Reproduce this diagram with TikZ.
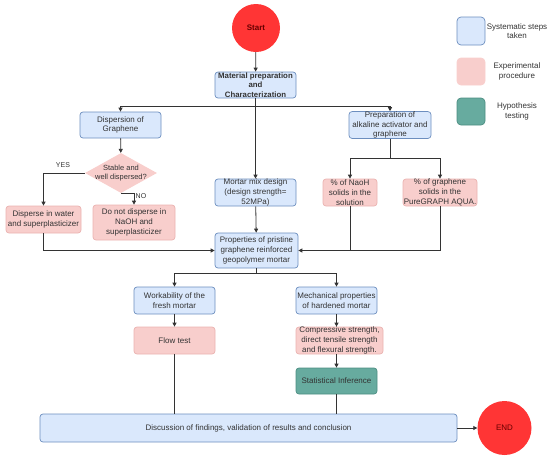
\documentclass[tikz,border=0pt]{standalone}
\usepackage{fontspec}
\setmainfont{Liberation Sans}
\usetikzlibrary{arrows.meta,shapes.geometric,calc}
\definecolor{bfill}{HTML}{DAE8FC}
\definecolor{bdraw}{HTML}{6C8EBF}
\definecolor{pfill}{HTML}{F8CECC}
\definecolor{pdraw}{HTML}{EAB2B0}
\definecolor{gfill}{HTML}{67AB9F}
\definecolor{gdraw}{HTML}{4D8E82}
\definecolor{rfill}{HTML}{FF3535}
\definecolor{txt}{HTML}{333333}
\definecolor{ln}{HTML}{333333}
\tikzset{
  base/.style={rounded corners=3pt, align=center, inner sep=0pt, text=txt,
    font=\fontsize{8}{9.7}\selectfont, line width=0.7pt},
  bluebox/.style={base, fill=bfill, draw=bdraw},
  pinkbox/.style={base, fill=pfill, draw=pdraw},
  greenbox/.style={base, fill=gfill, draw=gdraw, text=black!80},
  redcirc/.style={circle, fill=rfill, inner sep=0pt, text=red!40!black,
    font=\fontsize{8}{9.7}\selectfont},
  conn/.style={draw=ln, line width=0.8pt},
  arr/.style={conn, -{Triangle[length=4pt,width=4pt]}},
  lab/.style={font=\fontsize{8}{9.7}\selectfont, text=txt, align=center, inner sep=0pt},
}
\begin{document}
\begin{tikzpicture}[x=1pt,y=-1pt]
\useasboundingbox (0,0) rectangle (550,459);
% nodes
\node[redcirc, minimum size=48pt, font=\fontsize{8}{9.7}\selectfont\bfseries] (start) at (256,28) {Start};
\node[bluebox, minimum width=81pt, minimum height=26pt, font=\fontsize{7.8}{9.3}\selectfont\bfseries] (mat) at (255.5,85) {Material preparation\\and\\Characterization};
\node[bluebox, minimum width=81pt, minimum height=26pt] (disp) at (120.5,125) {Dispersion of\\Graphene};
\node[bluebox, minimum width=82pt, minimum height=26pt] (alk) at (390,125) {Preparation of\\alkaline activator and\\graphene};
\node[diamond, fill=pfill, inner sep=0pt, minimum width=72pt, minimum height=40pt] (dia) at (121,173) {};
\node[lab, font=\fontsize{7.5}{9.5}\selectfont] at (121,173) {Stable and\\well dispersed?};
\node[bluebox, minimum width=81pt, minimum height=27pt] (mix) at (255.5,192.5) {Mortar mix design\\(design strength=\\52MPa)};
\node[pinkbox, minimum width=54pt, minimum height=27pt] (naoh) at (350,192.5) {\% of NaoH\\solids in the\\solution};
\node[pinkbox, minimum width=74pt, minimum height=27pt] (gra) at (440,192.5) {\% of graphene\\solids in the\\PureGRAPH AQUA.};
\node[pinkbox, minimum width=75pt, minimum height=27pt] (water) at (43.5,219.5) {Disperse in water\\and superplasticizer};
\node[pinkbox, minimum width=82pt, minimum height=35pt] (nodisp) at (134,222.5) {Do not disperse in\\NaOH and\\superplasticizer};
\node[bluebox, minimum width=83pt, minimum height=35pt] (prop) at (256.5,250.5) {Properties of pristine\\graphene reinforced\\geopolymer mortar};
\node[bluebox, minimum width=81pt, minimum height=27pt] (work) at (174.5,300.5) {Workability of the\\fresh mortar};
\node[bluebox, minimum width=81pt, minimum height=27pt] (mech) at (336.5,300.5) {Mechanical properties\\of hardened mortar};
\node[pinkbox, minimum width=81pt, minimum height=27pt] (flow) at (174.5,340.5) {Flow test};
\node[pinkbox, minimum width=87pt, minimum height=27pt] (comp) at (339.5,340.5) {Compressive strength,\\direct tensile strength\\and flexural strength.};
\node[greenbox, minimum width=81pt, minimum height=26pt] (stat) at (336.5,381) {Statistical Inference};
\node[bluebox, minimum width=417pt, minimum height=28pt] (disc) at (248.5,428) {Discussion of findings, validation of results and conclusion};
\node[redcirc, minimum size=54pt] (endc) at (504.5,428) {END};
% legend
\node[base, fill=bfill, draw=bdraw, rounded corners=4pt, minimum width=28pt, minimum height=28pt] (lg1) at (471,31) {};
\node[base, fill=pfill, draw=pfill, rounded corners=4pt, minimum width=28pt, minimum height=27pt] (lg2) at (471,71.5) {};
\node[base, fill=gfill, draw=gdraw, rounded corners=4pt, minimum width=28pt, minimum height=27pt] (lg3) at (471,111.5) {};
\node[lab] (lt1) at (517,31) {Systematic steps\\taken};
\node[lab] (lt2) at (517,71.5) {Experimental\\procedure};
\node[lab] (lt3) at (517,111.5) {Hypothesis\\testing};
% connectors
\draw[arr] (start) -- (mat);
\draw[arr] (mat.south) -- (mix.north);
\coordinate (hj) at ($(mat.south)+(0,8)$);
\draw[arr] (hj) -| (disp.north);
\draw[arr] (hj) -| (alk.north);
\draw[arr] (disp) -- (dia);
\draw[arr] (dia.west) -| (water.north);
\node[lab, font=\fontsize{7}{8}\selectfont] (yes) at (63,165) {YES};
\draw[arr] (dia.south) -| (nodisp.north);
\node[lab, font=\fontsize{7}{8}\selectfont, anchor=west] (no) at (135.5,196) {NO};
\coordinate (aj) at ($(alk.south)+(0,20)$);
\draw[conn] (alk.south) -- (aj);
\draw[arr] (aj) -| (naoh.north);
\draw[arr] (aj) -| (gra.north);
\draw[arr] (mix) -- (prop);
\draw[arr] (water.south) |- (prop.west);
\draw[arr] (gra.south) |- (prop.east);
\draw[conn] (naoh.south) -- (naoh.south |- prop.east);
\coordinate (pj) at ($(prop.south)+(0,5)$);
\draw[conn] (prop.south) -- (pj);
\draw[arr] (pj) -| (work.north);
\draw[arr] (pj) -| (mech.north);
\draw[arr] (work) -- (flow);
\draw[arr] (mech.south) -- (mech.south |- comp.north);
\draw[arr] (comp.south -| stat.north) -- (stat.north);
\draw[conn] (flow.south) -- (flow.south |- disc.north);
\draw[conn] (stat.south) -- (stat.south |- disc.north);
\draw[arr] (disc) -- (endc);
\end{tikzpicture}
\end{document}
